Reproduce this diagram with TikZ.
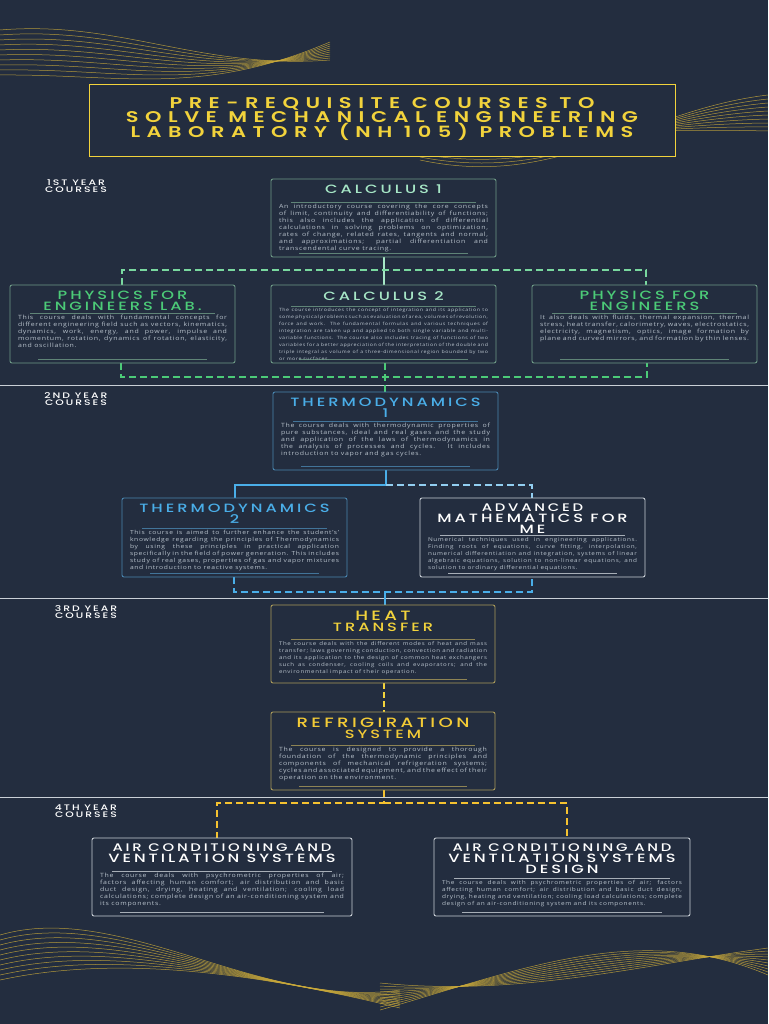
\documentclass[tikz,border=0pt]{standalone}
\usepackage{fontspec}
\setmainfont[LetterSpace=12,FakeStretch=1.2]{Open Sans}
\newfontfamily\hd[LetterSpace=25,FakeStretch=1.35]{Poppins Medium}
\newfontfamily\hdb[LetterSpace=42,FakeStretch=1.35]{Poppins SemiBold}
\AtBeginDocument{\hyphenpenalty=10000 \lefthyphenmin=64 \tolerance=9999 \emergencystretch=30pt}
\definecolor{bg}{HTML}{232D3F}
\definecolor{ylw}{HTML}{F2D33C}
\definecolor{ylb}{HTML}{C9A93A}
\definecolor{mint}{HTML}{A6E6C6}
\definecolor{grn}{HTML}{4CCB78}
\definecolor{gbx}{HTML}{6E9A86}
\definecolor{blu}{HTML}{4AAEE8}
\definecolor{bbx}{HTML}{4A86B0}
\definecolor{ybx}{HTML}{A99A5A}
\definecolor{wbx}{HTML}{C9CFD6}
\definecolor{txt}{HTML}{B8C2CC}
\newcommand\crs[9]{%
 \draw[#6,line width=0.9pt,rounded corners=2pt] (#2,#3) rectangle (#4,#5);
 \node[font=\hd\fontsize{12}{11}\selectfont,text=#7,align=center,anchor=north,inner sep=0] (#1) at ({(#2+#4)/2},#3+6) {#8};
 \draw[#6,opacity=.8] ({#2+20},#9-1.5) -- ({#4-20},#9-1.5);
 \node[anchor=north,text width={(#4-#2)-16},align=justify,text=txt,inner sep=0,font=\fontsize{5.8}{7}\selectfont] (#1b) at ({(#2+#4)/2},#9) {\bodytext};
 \draw[#6,opacity=.8] ({#2+28},#5-4) -- ({#4-28},#5-4);
}
\newcommand\bodytext{}
\begin{document}
\begin{tikzpicture}[x=1pt,y=-1pt]
\fill[bg] (0,0) rectangle (768,1024);
\useasboundingbox (0,0) rectangle (768,1024);
% decorative waves
\begin{scope}[ylb,line width=0.5pt,opacity=.85]
\foreach \i in {0,...,9}{
 \draw (0,{30+\i*5}) .. controls (120,{20+\i*6}) and (200,{70+\i*3}) .. (330,{60-\i*2});
 \draw (420,{160-\i*3}) .. controls (560,{190-\i*6}) and (640,{110+\i*2}) .. (768,{95+\i*4});
 \draw (0,{935+\i*5}) .. controls (120,{900+\i*6}) and (260,{1010-\i*4}) .. (400,{990+\i*2});
 \draw (380,{1010-\i*3}) .. controls (520,{970+\i*3}) and (640,{920+\i*5}) .. (768,{975-\i*3});
}
\end{scope}
% title
\fill[bg] (89,84) rectangle (675,156);
\draw[ylw,line width=0.9pt] (89,84) rectangle (675,156);
\node[font=\hdb\fontsize{15.5}{12.5}\selectfont,text=ylw,align=center] (title) at (382,119) {PRE-REQUISITE COURSES TO\\SOLVE MECHANICAL ENGINEERING\\LABORATORY (NH 105) PROBLEMS};
% separators
\foreach \y in {385,598,797} \draw[wbx,line width=0.8pt] (0,\y) -- (768,\y);
\begin{scope}[font=\hd\fontsize{8}{7}\selectfont,text=white,align=center]
\node (y1) at (76,186) {1ST YEAR\\COURSES};
\node (y2) at (76,399) {2ND YEAR\\COURSES};
\node (y3) at (86,612) {3RD YEAR\\COURSES};
\node (y4) at (86,811) {4TH YEAR\\COURSES};
\end{scope}
% connectors
\draw[mint,line width=2pt] (384,257) -- (384,285);
\draw[grn!50!mint,line width=2pt,dash pattern=on 7pt off 4pt] (122,285) -- (122,270) -- (646,270) -- (646,285);
\draw[grn,line width=2pt,dash pattern=on 7pt off 4pt] (121,363) -- (121,377) -- (647,377) -- (647,363);
\draw[grn,line width=2pt,dash pattern=on 7pt off 4pt] (385,363) -- (385,392);
\draw[blu,line width=2pt] (386,470) -- (386,485) -- (235,485) -- (235,498);
\draw[blu!60!white,line width=2pt,dash pattern=on 7pt off 4pt] (386,485) -- (532,485) -- (532,498);
\draw[blu,line width=2pt,dash pattern=on 7pt off 4pt] (234,577) -- (234,592) -- (532,592) -- (532,577);
\draw[blu,line width=2pt] (385,592) -- (385,605);
\draw[ylw,line width=2pt,dash pattern=on 6pt off 3pt] (384,683) -- (384,712);
\draw[ylw!80!orange,line width=2pt,dash pattern=on 7pt off 4pt] (384,790) -- (384,803) -- (217,803) -- (217,838);
\draw[ylw!80!orange,line width=2pt,dash pattern=on 7pt off 4pt] (384,803) -- (567,803) -- (567,838);
% boxes
\renewcommand\bodytext{An introductory course covering the core concepts of limit, continuity and differentiability of functions; this also includes the application of differential calculations in solving problems on optimization, rates of change, related rates, tangents and normal, and approximations; partial differentiation and transcendental curve tracing.}
\crs{c1}{271}{179}{496}{257}{gbx}{mint}{CALCULUS 1}{204}
\renewcommand\bodytext{This course deals with fundamental concepts for different engineering field such as vectors, kinematics, dynamics, work, energy, and power, impulse and momentum, rotation, dynamics of rotation, elasticity, and oscillation.}
\crs{pl}{10}{285}{235}{363}{gbx}{grn}{PHYSICS FOR\\ENGINEERS LAB.}{315}
\renewcommand\bodytext{\fontsize{4.4}{4.9}\selectfont The course introduces the concept of integration and its application to some physical problems such as evaluation of area, volumes of revolution, force and work. The fundamental formulas and various techniques of integration are taken up and applied to both single variable and multi-variable functions. The course also includes tracing of functions of two variables for a better appreciation of the interpretation of the double and triple integral as volume of a three-dimensional region bounded by two or more surfaces.}
\crs{c2}{271}{285}{496}{363}{gbx}{mint}{CALCULUS 2}{308}
\renewcommand\bodytext{It also deals with fluids, thermal expansion, thermal stress, heat transfer, calorimetry, waves, electrostatics, electricity, magnetism, optics, image formation by plane and curved mirrors, and formation by thin lenses.}
\crs{pe}{532}{285}{757}{363}{gbx}{grn}{PHYSICS FOR\\ENGINEERS}{315}
\renewcommand\bodytext{The course deals with thermodynamic properties of pure substances, ideal and real gases and the study and application of the laws of thermodynamics in the analysis of processes and cycles. It includes introduction to vapor and gas cycles.}
\crs{t1}{273}{392}{498}{470}{bbx}{blu}{THERMODYNAMICS\\1}{423}
\renewcommand\bodytext{\fontsize{5.6}{6.5}\selectfont This course is aimed to further enhance the student's' knowledge regarding the principles of Thermodynamics by using these principles in practical application specifically in the field of power generation. This includes study of real gases, properties of gas and vapor mixtures and introduction to reactive systems.}
\crs{t2}{122}{498}{347}{577}{bbx}{blu}{THERMODYNAMICS\\2}{530}
\renewcommand\bodytext{\fontsize{5.3}{6.4}\selectfont Numerical techniques used in engineering applications. Finding roots of equations, curve fitting, interpolation, numerical differentiation and integration, systems of linear algebraic equations, solution to non-linear equations, and solution to ordinary differential equations.}
\crs{am}{420}{498}{645}{577}{wbx}{white}{\fontsize{11}{8.8}\selectfont ADVANCED\\MATHEMATICS FOR\\ME}{537}
\renewcommand\bodytext{\fontsize{5.1}{5.8}\selectfont The course deals with the different modes of heat and mass transfer; laws governing conduction, convection and radiation and its application to the design of common heat exchangers such as condenser, cooling coils and evaporators; and the environmental impact of their operation.}
\crs{ht}{271}{605}{495}{683}{ybx}{ylw}{\fontsize{13.5}{12}\selectfont HEAT\\TRANSFER}{641}
\renewcommand\bodytext{The course is designed to provide a thorough foundation of the thermodynamic principles and components of mechanical refrigeration systems; cycles and associated equipment, and the effect of their operation on the environment.}
\crs{rs}{271}{712}{495}{790}{ybx}{ylw!90!orange}{\fontsize{13.5}{12}\selectfont REFRIGIRATION\\SYSTEM}{747}
\renewcommand\bodytext{The course deals with psychrometric properties of air; factors affecting human comfort; air distribution and basic duct design, drying, heating and ventilation; cooling load calculations; complete design of an air-conditioning system and its components.}
\crs{ac1}{92}{838}{352}{916}{wbx}{white}{\fontsize{11}{9.8}\selectfont AIR CONDITIONING AND\\VENTILATION SYSTEMS}{873}
\renewcommand\bodytext{\fontsize{5.4}{6.4}\selectfont The course deals with psychrometric properties of air; factors affecting human comfort; air distribution and basic duct design, drying, heating and ventilation; cooling load calculations; complete design of an air-conditioning system and its components.}
\crs{ac2}{434}{838}{690}{916}{wbx}{white}{\fontsize{11}{9.2}\selectfont AIR CONDITIONING AND\\VENTILATION SYSTEMS\\DESIGN}{880}
\end{tikzpicture}
\end{document}
